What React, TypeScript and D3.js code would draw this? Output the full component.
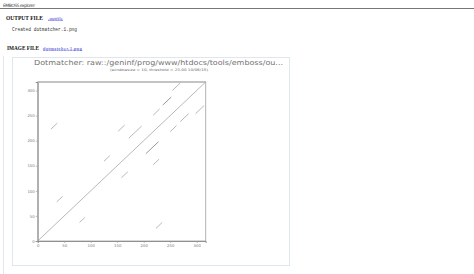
import React, { useEffect, useRef } from "react";
import * as d3 from "d3";

const seqLengthA = 317;
const seqLengthB = 317;
const tickValues = [0, 50, 100, 150, 200, 250, 300];
// match diagonals: start (x,y) and length in residues
const matchStartX = [25, 36, 79, 125, 152, 158, 172, 204, 218, 223, 218, 236, 254, 250, 269, 298, 0];
const matchStartY = [223, 78, 37, 159, 219, 126, 205, 174, 152, 25, 251, 271, 300, 218, 238, 254, 0];
const matchLength = [12, 11, 10, 11, 12, 12, 24, 24, 11, 12, 12, 16, 15, 12, 16, 16, 317];
const matchScore = [1, 1, 1, 1, 1, 1, 1, 2, 1, 1, 1, 2, 1, 1, 1, 1, 1];

const titleText = "Dotmatcher: raw::/geninf/prog/www/htdocs/tools/emboss/ou...";
const subtitleText = "(windowsize = 10, threshold = 23.00  10/06/15)";

export default function App() {
  const ref = useRef<SVGSVGElement>(null);

  useEffect(() => {
    const svg = d3.select(ref.current);
    svg.selectAll("*").remove();

    // page chrome
    svg.append("text").attr("x", 3).attr("y", 6.5).attr("font-family", "DejaVu Sans")
      .attr("font-size", 4.5).attr("fill", "#444").attr("textLength", 32).text("EMBOSS explorer");
    svg.append("line").attr("x1", 0).attr("x2", 474).attr("y1", 8.5).attr("y2", 8.5)
      .attr("stroke", "#777").attr("stroke-width", 1);

    svg.append("text").attr("x", 6).attr("y", 19.6).attr("font-family", "Liberation Serif")
      .attr("font-weight", "bold").attr("font-size", 6.4).attr("fill", "#111")
      .attr("textLength", 37).attr("lengthAdjust", "spacingAndGlyphs").text("OUTPUT FILE");
    svg.append("text").attr("x", 48).attr("y", 19.5).attr("font-family", "Liberation Serif")
      .attr("font-size", 4.8).attr("fill", "#2a2ad0").attr("text-decoration", "underline")
      .attr("textLength", 15).text(".outfile");
    svg.append("text").attr("x", 12).attr("y", 30.5).attr("font-family", "Liberation Mono")
      .attr("font-size", 4.5).attr("fill", "#333").attr("textLength", 65).text("Created dotmatcher.1.png");

    svg.append("text").attr("x", 7).attr("y", 49.6).attr("font-family", "Liberation Serif")
      .attr("font-weight", "bold").attr("font-size", 6.4).attr("fill", "#111")
      .attr("textLength", 32).attr("lengthAdjust", "spacingAndGlyphs").text("IMAGE FILE");
    svg.append("text").attr("x", 43).attr("y", 49.5).attr("font-family", "Liberation Serif")
      .attr("font-size", 4.8).attr("fill", "#2a2ad0").attr("text-decoration", "underline")
      .attr("textLength", 39).text("dotmatcher.1.png");

    svg.append("line").attr("x1", 3.5).attr("x2", 3.5).attr("y1", 56).attr("y2", 274)
      .attr("stroke", "#e3e8ee").attr("stroke-width", 1);
    svg.append("rect").attr("x", 12.5).attr("y", 57.5).attr("width", 277).attr("height", 208)
      .attr("fill", "white").attr("stroke", "#dfe7ee").attr("stroke-width", 1);

    // title
    svg.append("text").attr("x", 34).attr("y", 65.3).attr("font-family", "DejaVu Sans")
      .attr("font-size", 7).attr("fill", "#727272")
      .attr("textLength", 249).attr("lengthAdjust", "spacingAndGlyphs").text(titleText);
    svg.append("text").attr("x", 110).attr("y", 71).attr("font-family", "DejaVu Sans")
      .attr("font-size", 3.4).attr("fill", "#666")
      .attr("textLength", 98).attr("lengthAdjust", "spacingAndGlyphs").text(subtitleText);

    const x = d3.scaleLinear().domain([0, seqLengthA]).range([37.7, 205.7]);
    const y = d3.scaleLinear().domain([0, seqLengthB]).range([241, 82]);

    // frame
    svg.append("rect").attr("x", x(0)).attr("y", y(seqLengthB))
      .attr("width", x(seqLengthA) - x(0)).attr("height", y(0) - y(seqLengthB))
      .attr("fill", "none").attr("stroke", "#aaaaaa").attr("stroke-width", 0.9);
    svg.append("line").attr("x1", x(0)).attr("x2", x(seqLengthA)).attr("y1", y(seqLengthB)).attr("y2", y(seqLengthB))
      .attr("stroke", "#bdbdbd").attr("stroke-width", 1.6);

    const xAxis = d3.axisBottom(x).tickValues(tickValues).tickSize(2).tickPadding(1);
    const yAxis = d3.axisLeft(y).tickValues(tickValues).tickSize(2).tickPadding(1);
    const gx = svg.append("g").attr("transform", `translate(0,${y(0)})`).call(xAxis);
    const gy = svg.append("g").attr("transform", `translate(${x(0)},0)`).call(yAxis);
    [gx, gy].forEach((g) => {
      g.select(".domain").attr("stroke", "#888").attr("stroke-width", 0.9);
      g.selectAll(".tick line").attr("stroke", "#999").attr("stroke-width", 0.6);
      g.selectAll(".tick text").attr("fill", "#777").attr("font-size", 3.8).attr("font-family", "DejaVu Sans");
    });

    // matches
    const color = (s: number) => (s > 1 ? "#6a6a6a" : "#9a9a9a");
    matchStartX.forEach((sx, i) => {
      const sy = matchStartY[i];
      const len = matchLength[i];
      svg.append("line")
        .attr("x1", x(sx)).attr("y1", y(sy))
        .attr("x2", x(sx + len)).attr("y2", y(sy + len))
        .attr("stroke", color(matchScore[i])).attr("stroke-width", 0.7);
    });
  }, []);

  return (
    <svg ref={ref} width={474} height={274}
      style={{ position: "absolute", left: 0, top: 0, background: "white" }} />
  );
}
